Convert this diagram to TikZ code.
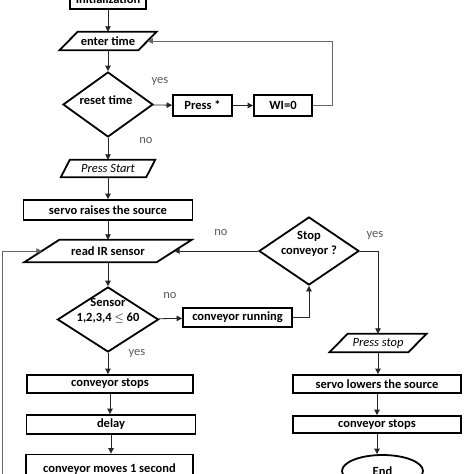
\documentclass[tikz,border=0pt]{standalone}
\usepackage{fontspec}
\setmainfont{Carlito}
\usetikzlibrary{shapes.geometric,arrows.meta,calc}
\newcommand\paral[2]{\draw[line width=1.8pt] ($(#1.north west)+(#2,0)$) -- ($(#1.north east)+(#2,0)$) -- ($(#1.south east)-(#2,0)$) -- ($(#1.south west)-(#2,0)$) -- cycle;}
\begin{document}
\begin{tikzpicture}[x=1pt,y=-1pt,
  fnt/.style={font=\fontsize{12.5}{14}\selectfont\bfseries},
  box/.style={fnt,draw,line width=1.8pt,minimum height=20pt,inner sep=0pt},
  io/.style={fnt,inner sep=0pt},
  iot/.style={font=\fontsize{12.5}{14}\selectfont\itshape,inner sep=0pt},
  dia/.style={diamond,draw,line width=1.8pt,inner sep=0pt},
  dtext/.style={fnt,align=center,inner sep=0pt},
  conn/.style={line width=0.8pt,black!85,-{Triangle[length=5.5pt,width=5.5pt]}},
  fb/.style={conn,black!60},
  lab/.style={font=\fontsize{12.5}{14}\selectfont,text=black!65}]
\useasboundingbox (0,0) rectangle (474,474);
\clip (0,0) rectangle (474,474);
% left column
\node[box,minimum width=76pt] (init) at (108,-1) {Initialization};
\node[io,minimum width=78.5pt,minimum height=18pt] (et) at (108,41) {enter time};
\paral{et}{9}
\node[dia,minimum width=90pt,minimum height=65pt] (rt) at (108,104.5) {};
\node[dtext] (rtt) at (106,100.5) {reset time};
\node[box,minimum width=59pt,minimum height=21pt] (pr) at (202.5,105.5) {Press *};
\node[box,minimum width=58pt,minimum height=21pt] (wi) at (283,105.5) {WI=0};
\node[iot,minimum width=85pt,minimum height=17pt] (ps) at (108,168.5) {Press Start};
\paral{ps}{4.5}
\node[box,minimum width=169pt] (sr) at (108,210) {servo raises the source};
\node[io,minimum width=132pt,minimum height=22pt] (ir) at (108,251) {read IR sensor};
\paral{ir}{17.5}
\node[dia,minimum width=101pt,minimum height=65pt] (sn) at (108,319.5) {};
\node[dtext] (snt) at (108,311) {Sensor\\[1pt]1,2,3,4 $\le$ 60};
\node[box,minimum width=109pt,minimum height=19pt] (cr) at (237.5,317.5) {conveyor running};
\node[dia,minimum width=100pt,minimum height=68pt] (sc) at (309,251) {};
\node[dtext] (sct) at (309,244) {Stop\\[1pt]conveyor ?};
\node[box,minimum width=166pt,minimum height=18pt] (cs1) at (110,384) {conveyor stops};
\node[box,minimum width=169pt,minimum height=19pt] (dl) at (111,424.5) {delay};
\node[box,minimum width=167pt,minimum height=30pt] (cm) at (109.5,469.5) {conveyor moves 1 second};
% right column
\node[iot,minimum width=78.5pt,minimum height=18pt] (pst) at (378,343) {Press stop};
\paral{pst}{9}
\node[box,minimum width=168pt,minimum height=18pt] (sl) at (377,384) {servo lowers the source};
\node[box,minimum width=168pt,minimum height=17pt] (cs2) at (377,424.5) {conveyor stops};
\node[fnt,ellipse,draw,line width=1.8pt,minimum width=81pt,minimum height=32pt,inner sep=0pt] (end) at (382.5,471) {End};
\coordinate (lb) at (2,474);
% connectors
\draw[conn] (init) -- (et);
\draw[conn] (et) -- (rt);
\draw[conn] (rt) -- (pr);
\draw[conn] (pr) -- (wi);
\draw[fb] (wi.east) -- ++(19,0) |- (et.east);
\draw[conn] (rt) -- (ps);
\draw[conn] (ps) -- (sr);
\draw[conn] (sr) -- (ir);
\draw[conn] (ir) -- (sn);
\draw[conn] (sn) -- (cr);
\draw[conn] (cr.east) -| (sc.south);
\draw[conn] (sc.west) -- (ir.east);
\draw[conn] (sc.east) -| (pst.north);
\draw[conn] (sn.south) -- (sn.south |- cs1.north);
\draw[conn] (cs1.south) -- (cs1.south |- dl.north);
\draw[conn] (dl.south) -- (dl.south |- cm.north);
\draw[conn] (pst.south) -- (pst.south |- sl.north);
\draw[conn] (sl.south) -- (sl.south |- cs2.north);
\draw[conn] (cs2.south) -- (cs2.south |- end.north);
\draw[fb] (lb) |- (ir.west);
% labels
\node[lab] (l1) at (160,81) {yes};
\node[lab] (l2) at (146,141) {no};
\node[lab] (l3) at (170,296) {no};
\node[lab] (l4) at (137,353) {yes};
\node[lab] (l5) at (221,233) {no};
\node[lab] (l6) at (375,235) {yes};
\end{tikzpicture}
\end{document}
